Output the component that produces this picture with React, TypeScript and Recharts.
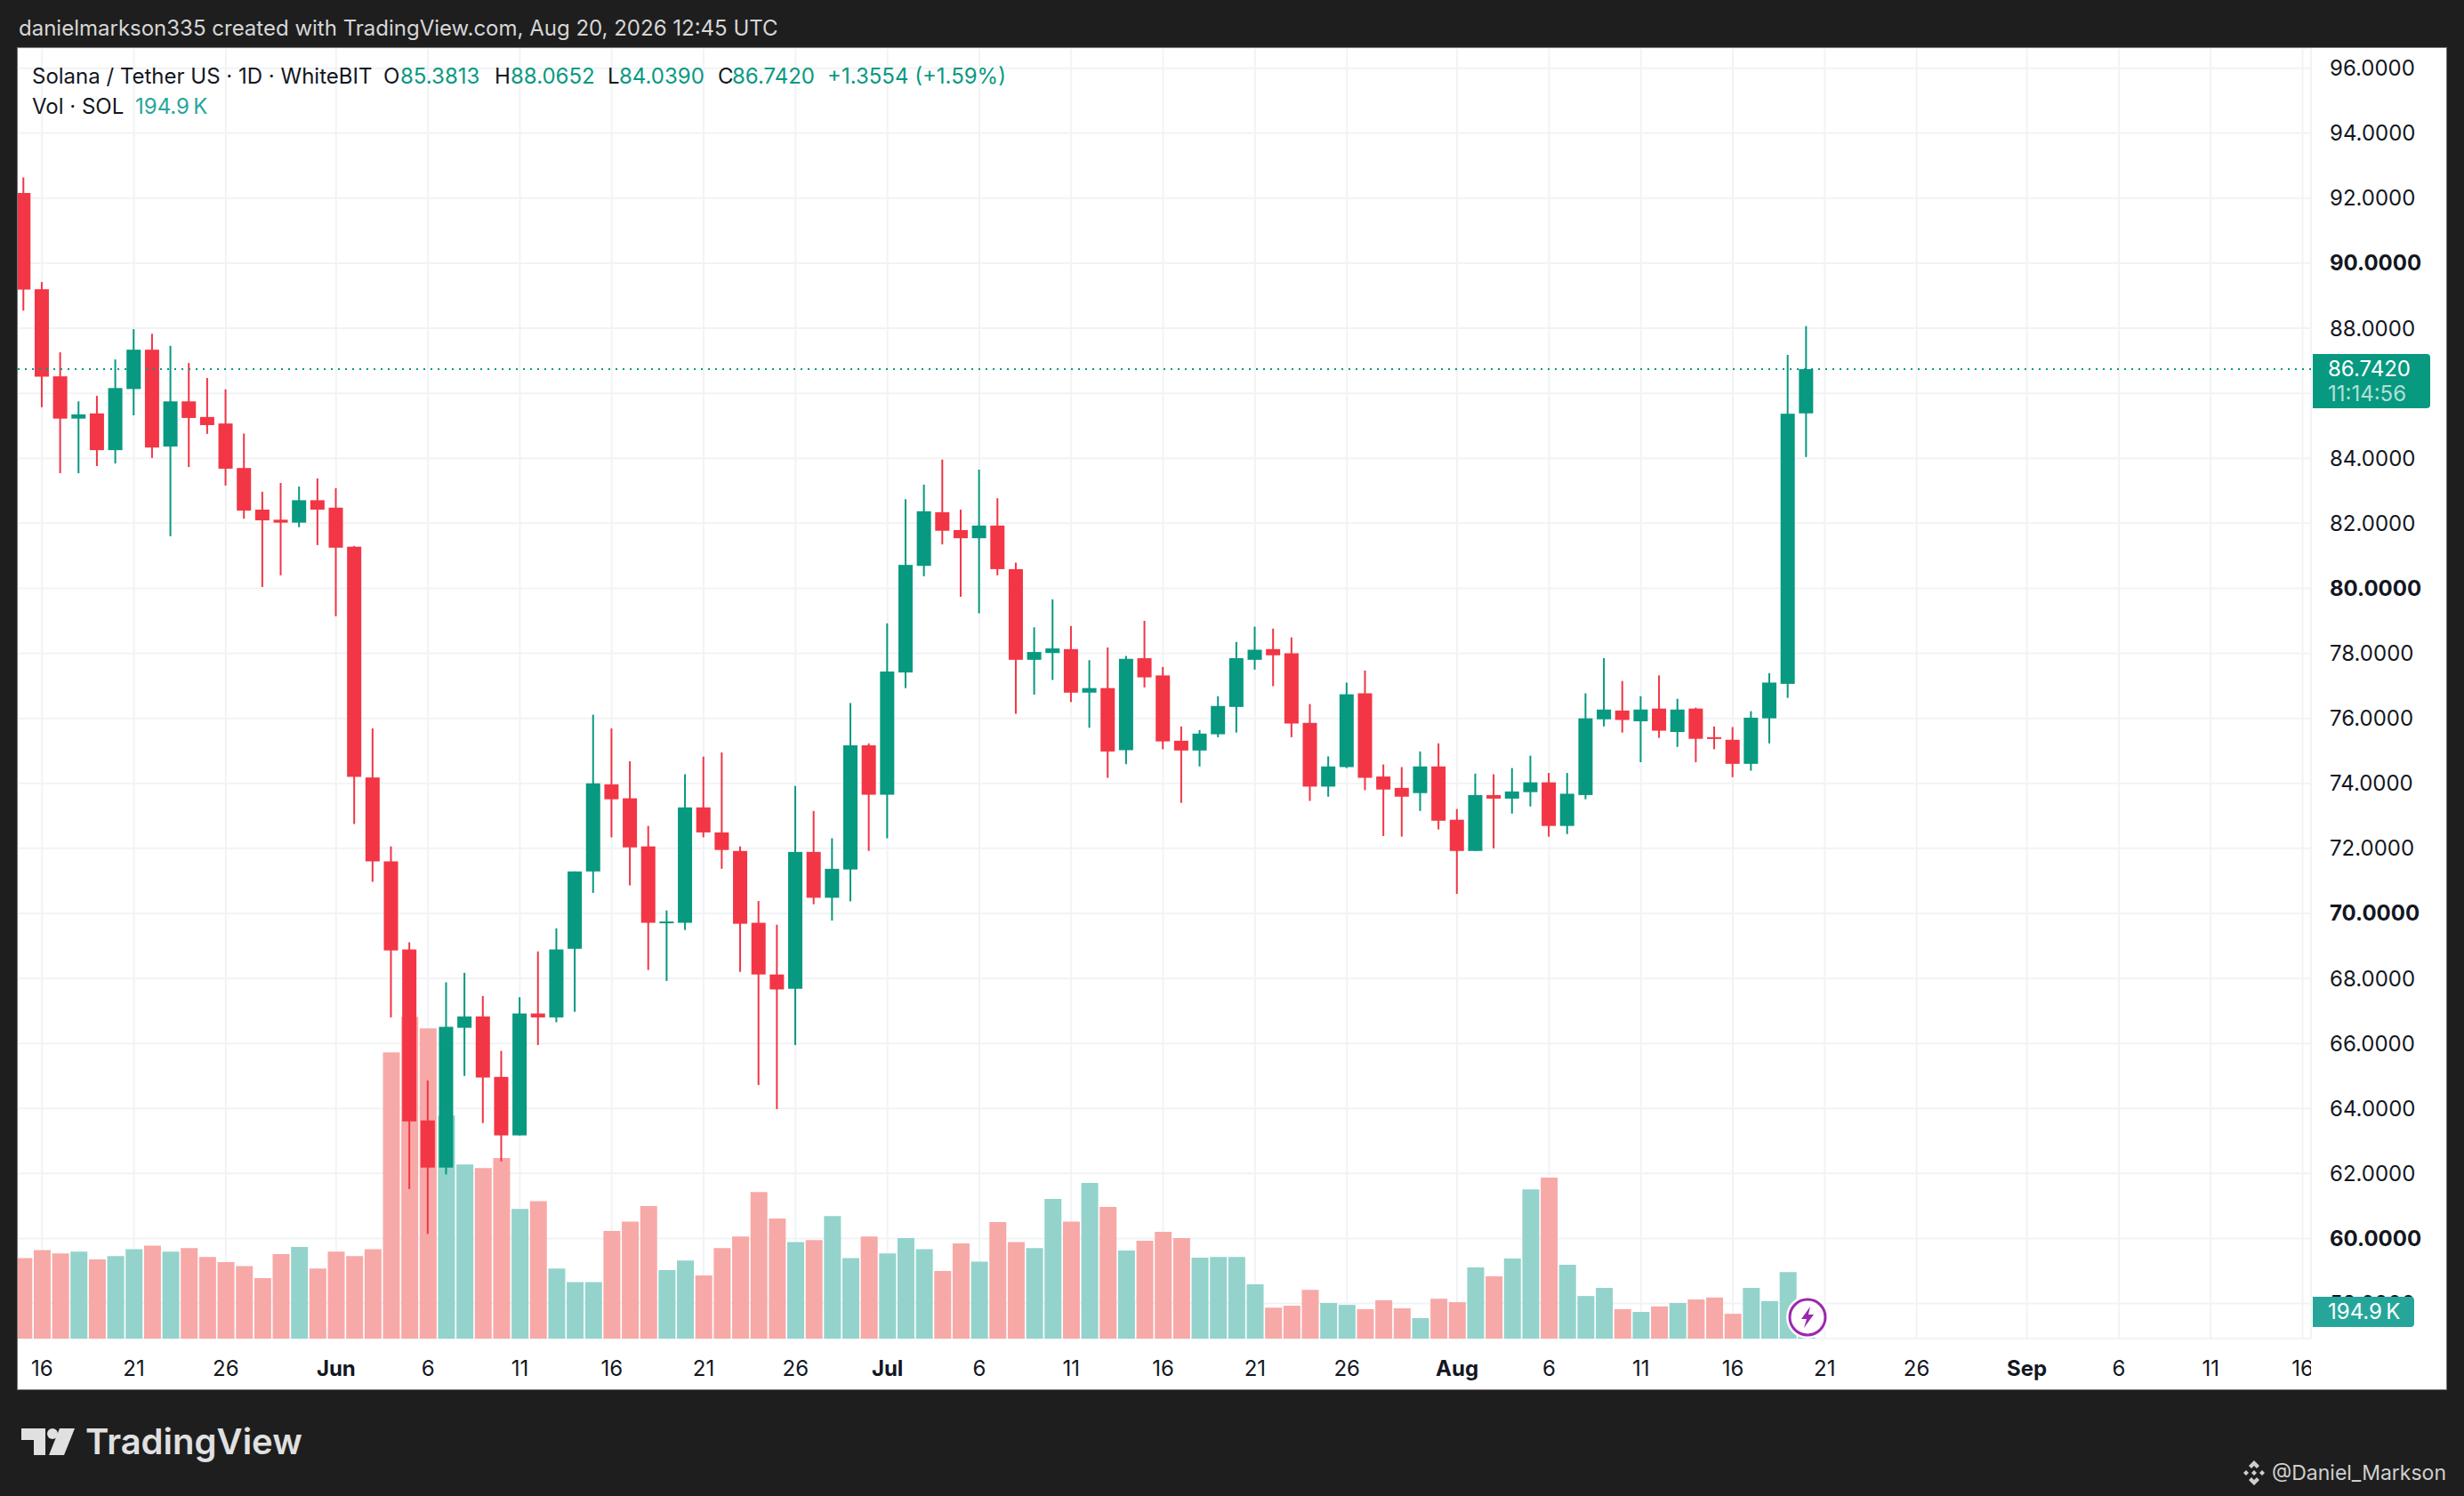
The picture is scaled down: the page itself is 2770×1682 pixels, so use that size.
import { Bar, CartesianGrid, Cell, ComposedChart, ReferenceLine, XAxis, YAxis } from 'recharts';

const UP = '#089981';
const DOWN = '#f23645';
const UP_VOL = '#93d3cc';
const DOWN_VOL = '#f7a9a7';
const FONT = 'Inter, sans-serif';

// daily candles, May 15 to Aug 20
const opens = [
  92.16, 89.2, 86.52, 85.22, 85.38, 84.25, 86.13, 87.34, 84.36, 85.75, 85.27, 85.07, 83.7, 82.42, 82.11, 82.02, 82.71,
  82.48, 81.28, 74.18, 71.6, 68.89, 63.63, 62.18, 66.48, 66.83, 64.97, 63.17, 66.92, 66.8, 68.91, 71.29, 73.97, 73.54, 72.06, 69.71, 69.71, 73.26, 72.49, 71.92, 69.71, 68.12, 67.68, 71.89, 70.48, 71.35, 75.17,
  73.65, 77.41, 80.69, 82.34, 81.79, 81.54, 81.93, 80.59, 77.8, 78.01, 78.13, 76.79, 76.93, 75.02, 77.85, 77.32, 75.31, 75.01, 75.51, 76.35, 77.8, 78.13, 78.0, 75.86, 73.9, 74.5, 76.77, 74.21, 73.86, 73.7, 74.52,
  72.88, 71.92, 73.64, 73.53, 73.73, 74.03, 72.69, 73.64, 75.97, 76.24, 75.91, 76.3, 75.58, 76.3, 75.42, 75.34, 74.6, 76.0, 77.06, 85.3813,
];
const highs = [
  92.64, 89.42, 87.26, 85.75, 85.92, 87.04, 87.97, 87.83, 87.46, 86.93, 86.47, 86.12, 84.76, 82.97, 83.24, 83.13, 83.38,
  83.08, 81.3, 75.69, 72.06, 69.11, 64.86, 67.88, 68.17, 67.46, 65.77, 67.42, 68.83, 69.54, 71.29, 76.11, 75.69, 74.68, 72.69, 70.09, 74.28, 74.82, 74.95, 72.06, 70.38, 69.65, 73.92, 73.15, 72.31, 76.47, 75.23,
  78.92, 82.74, 83.19, 83.96, 82.42, 83.65, 82.77, 80.79, 78.8, 79.66, 78.84, 77.79, 78.18, 77.92, 79.0, 77.58, 75.75, 75.64, 76.68, 78.35, 78.82, 78.76, 78.49, 76.44, 74.83, 77.1, 77.47, 74.58, 74.5, 74.98, 75.23,
  73.21, 74.3, 74.28, 74.47, 74.85, 74.32, 74.32, 76.77, 77.85, 77.15, 76.68, 77.32, 76.6, 76.33, 75.75, 75.73, 76.22, 77.39, 87.18, 88.0652,
];
const lows = [
  88.54, 85.57, 83.54, 83.54, 83.76, 83.84, 85.32, 84.01, 81.6, 83.73, 84.75, 83.16, 82.14, 80.04, 80.4, 81.88, 81.33,
  79.14, 72.75, 70.97, 66.8, 61.52, 60.14, 61.97, 65.0, 63.55, 62.37, 63.17, 65.95, 66.65, 66.97, 70.63, 72.34, 70.86, 68.26, 67.92, 69.49, 72.34, 71.37, 68.2, 64.72, 63.98, 65.95, 70.28, 69.78, 70.37, 71.92,
  72.31, 76.93, 80.37, 81.35, 79.74, 79.23, 80.4, 76.14, 76.73, 77.18, 76.5, 75.71, 74.17, 74.59, 76.95, 75.05, 73.4, 74.52, 75.42, 75.56, 77.5, 76.99, 75.42, 73.46, 73.59, 74.47, 73.79, 72.38, 72.36, 73.15, 72.58,
  70.6, 71.92, 72.0, 73.07, 73.29, 72.36, 72.44, 73.51, 75.75, 75.56, 74.65, 75.4, 75.12, 74.65, 75.05, 74.19, 74.39, 75.23, 76.63, 84.039,
];
const closes = [
  89.19, 86.51, 85.22, 85.35, 84.25, 86.16, 87.34, 84.33, 85.75, 85.24, 85.02, 83.68, 82.39, 82.09, 82.02, 82.71, 82.42,
  81.25, 74.2, 71.6, 68.86, 63.6, 62.18, 66.51, 66.83, 64.95, 63.17, 66.92, 66.8, 68.89, 71.29, 74.0, 73.51, 72.03, 69.71, 69.75, 73.26, 72.49, 71.95, 69.68, 68.12, 67.66, 71.89, 70.48, 71.37, 75.17, 73.65,
  77.44, 80.72, 82.37, 81.77, 81.54, 81.93, 80.59, 77.8, 78.04, 78.15, 76.79, 76.93, 74.98, 77.83, 77.26, 75.29, 75.01, 75.53, 76.38, 77.85, 78.11, 77.94, 75.84, 73.9, 74.52, 76.74, 74.17, 73.81, 73.59, 74.52, 72.85,
  71.92, 73.64, 73.53, 73.75, 74.03, 72.69, 73.68, 76.0, 76.27, 75.95, 76.27, 75.62, 76.27, 75.37, 75.37, 74.6, 76.02, 77.1, 85.37, 86.742,
];
// volume in thousands of SOL
const volumes = [
  589, 647, 622, 636, 578, 603, 654, 680, 636, 662, 596, 559, 530, 442, 618, 669, 512,
  636, 603, 654, 2091, 2351, 2267, 1630, 1272, 1247, 1320, 947, 1005, 512, 413, 413, 786, 855, 969, 501, 570, 461, 662, 746, 1071, 878, 706, 720, 896, 589, 746,
  622, 735, 654, 494, 695, 563, 852, 706, 662, 1020, 855, 1137, 962, 644, 715, 780, 735, 591, 597, 597, 396, 226, 240, 356, 260, 246, 215, 280, 221, 150, 291,
  266, 520, 455, 585, 1091, 1176, 540, 311, 370, 215, 195, 235, 260, 286, 300, 181, 370, 274, 486, 194.9,
];

// x value 0 is May 16
const tickDays = [0, 5, 10, 16, 21, 26, 31, 36, 41, 46, 51, 56, 61, 66, 71, 77, 82, 87, 92, 97, 102, 108, 113, 118, 123];
const timeLabels = ['16', '21', '26', 'Jun', '6', '11', '16', '21', '26', 'Jul', '6', '11', '16', '21', '26', 'Aug', '6', '11', '16', '21', '26', 'Sep', '6', '11', '16'];
const monthTicks = [16, 46, 77, 108];
const priceTicks = [96, 94, 92, 90, 88, 86, 84, 82, 80, 78, 76, 74, 72, 70, 68, 66, 64, 62, 60, 58];

const rows = opens.map((open, i) => ({
  day: i - 1,
  open,
  high: highs[i],
  low: lows[i],
  close: closes[i],
  range: [lows[i], highs[i]],
  volume: volumes[i],
}));

const CHART_W = 2730;
const CHART_H = 1508;
const PLOT_RIGHT = 2578;
const X_DOMAIN = [-1.32, 123.46];
const Y_DOMAIN = [56.92, 96.62];
const VOL_DOMAIN = [0, 9431];

function Candle({ x, y, width, height, payload }: any) {
  const { open, close, high, low } = payload;
  const perUnit = height / (high - low);
  const yOf = (v: number) => y + (high - v) * perUnit;
  const color = close >= open ? UP : DOWN;
  const top = yOf(Math.max(open, close));
  const bodyH = Math.max(Math.abs(open - close) * perUnit, 2);
  return (
    <g>
      <rect x={x + width / 2 - 1} y={y} width={2} height={height} fill={color} />
      <rect x={x} y={top} width={width} height={bodyH} fill={color} />
    </g>
  );
}

function TimeTick({ x, y, payload }: any) {
  const label = timeLabels[tickDays.indexOf(payload.value)];
  const isMonth = monthTicks.includes(payload.value);
  return (
    <text
      x={x}
      y={y + 31}
      textAnchor="middle"
      dominantBaseline="central"
      clipPath="url(#timeClip)"
      fontFamily={FONT}
      fontSize={24}
      fontWeight={isMonth ? 700 : 400}
      fill="#131722"
    >
      {label}
    </text>
  );
}

function PriceTick({ x, y, payload }: any) {
  return (
    <text
      x={x + 19}
      y={y}
      dominantBaseline="central"
      fontFamily={FONT}
      fontSize={24}
      fontWeight={payload.value % 10 === 0 ? 700 : 400}
      fill="#131722"
    >
      {payload.value.toFixed(4)}
    </text>
  );
}

function Abs({ x, y, color, size = 24, children, weight = 400 }: any) {
  return (
    <div
      style={{
        position: 'absolute',
        left: x,
        top: y,
        transform: 'translateY(-50%)',
        color,
        fontSize: size,
        fontWeight: weight,
        fontFamily: FONT,
        whiteSpace: 'nowrap',
        lineHeight: 1,
      }}
    >
      {children}
    </div>
  );
}

export default function App() {
  return (
    <div style={{ position: 'absolute', left: 0, top: 0, width: 2770, height: 1682, background: '#1e1e1e', overflow: 'hidden' }}>
      <Abs x={21} y={32} color="#d6d6d6">
        danielmarkson335 created with TradingView.com, Aug 20, 2026 12:45 UTC
      </Abs>

      <div style={{ position: 'absolute', left: 20, top: 54, width: CHART_W, height: CHART_H, background: '#fff', outline: '1px solid #777' }}>
        <ComposedChart
          width={CHART_W}
          height={CHART_H}
          data={rows}
          margin={{ top: 0, right: 0, bottom: 0, left: 0 }}
          barGap={0}
        >
          <defs>
            <clipPath id="timeClip">
              <rect x={0} y={0} width={PLOT_RIGHT} height={CHART_H} />
            </clipPath>
          </defs>
          <XAxis
            xAxisId="time"
            type="number"
            dataKey="day"
            domain={X_DOMAIN}
            allowDataOverflow
            ticks={tickDays}
            interval={0}
            height={57}
            axisLine={false}
            tickLine={false}
            tickSize={0}
            tick={<TimeTick />}
          />
          <XAxis xAxisId="volTime" type="number" dataKey="day" domain={X_DOMAIN} allowDataOverflow hide />
          <YAxis
            yAxisId="price"
            orientation="right"
            domain={Y_DOMAIN}
            allowDataOverflow
            ticks={priceTicks}
            interval={0}
            width={152}
            axisLine={false}
            tickLine={false}
            tickSize={0}
            tick={<PriceTick />}
          />
          <YAxis yAxisId="vol" domain={VOL_DOMAIN} allowDataOverflow hide />
          <CartesianGrid xAxisId="time" yAxisId="price" stroke="#f2f3f5" strokeWidth={2} />
          <Bar xAxisId="volTime" yAxisId="vol" dataKey="volume" barSize={19} isAnimationActive={false}>
            {rows.map((r) => (
              <Cell key={r.day} fill={r.close >= r.open ? UP_VOL : DOWN_VOL} />
            ))}
          </Bar>
          <ReferenceLine xAxisId="time" yAxisId="price" y={closes[closes.length - 1]} stroke={UP} strokeWidth={2} strokeDasharray="2 6" />
          <Bar xAxisId="time" yAxisId="price" dataKey="range" barSize={16} shape={<Candle />} isAnimationActive={false} />
        </ComposedChart>
      </div>

      <Abs x={36} y={86} color="#131722">Solana / Tether US · 1D · WhiteBIT</Abs>
      <Abs x={431} y={86} color="#131722">O</Abs>
      <Abs x={450} y={86} color={UP}>85.3813</Abs>
      <Abs x={556} y={86} color="#131722">H</Abs>
      <Abs x={574} y={86} color={UP}>88.0652</Abs>
      <Abs x={683} y={86} color="#131722">L</Abs>
      <Abs x={696} y={86} color={UP}>84.0390</Abs>
      <Abs x={807} y={86} color="#131722">C</Abs>
      <Abs x={823} y={86} color={UP}>86.7420</Abs>
      <Abs x={930} y={86} color={UP}>+1.3554 (+1.59%)</Abs>
      <Abs x={36} y={120} color="#131722">Vol · SOL</Abs>
      <Abs x={152} y={120} color="#26a69a">194.9{'\u202f'}K</Abs>

      <div style={{ position: 'absolute', left: 2600, top: 398, width: 132, height: 61, background: UP, borderRadius: '0 4px 4px 0' }} />
      <Abs x={2617} y={415} color="#fff">86.7420</Abs>
      <Abs x={2617} y={443} color="rgba(255,255,255,0.7)">11:14:56</Abs>

      <div style={{ position: 'absolute', left: 2600, top: 1458, width: 114, height: 34, background: '#26a69a', borderRadius: '0 4px 4px 0' }} />
      <Abs x={2617} y={1475} color="#fff">194.9{'\u202f'}K</Abs>

      <svg style={{ position: 'absolute', left: 2006, top: 1455 }} width={52} height={52} viewBox="0 0 52 52">
        <circle cx={26} cy={26} r={24} fill="#fff" />
        <circle cx={26} cy={26} r={20} fill="#fff" stroke="#9c27b0" strokeWidth={3} />
        <path d="M29 14 L19 28 L25 28 L22 38 L33 23 L27 23 Z" fill="#9c27b0" />
      </svg>

      <svg style={{ position: 'absolute', left: 24, top: 1604 }} width={62} height={34} viewBox="0 0 62 34" fill="#e0e0e0">
        <path d="M0 2 H27 V32 H14 V15 H0 Z" />
        <circle cx={35} cy={8} r={6} />
        <path d="M43 2 H60 L48 32 H31 Z" />
      </svg>
      <Abs x={96} y={1621} color="#e0e0e0" size={40} weight={600}>TradingView</Abs>

      <svg style={{ position: 'absolute', left: 2520, top: 1642 }} width={28} height={28} viewBox="0 0 28 28" fill="#cfcfcf">
        <path d="M14 0 L20 6 L17 9 L14 6 L11 9 L8 6 Z" />
        <path d="M14 28 L20 22 L17 19 L14 22 L11 19 L8 22 Z" />
        <path d="M5 11 L8 14 L5 17 L2 14 Z" />
        <path d="M23 11 L26 14 L23 17 L20 14 Z" />
        <path d="M14 11 L17 14 L14 17 L11 14 Z" />
      </svg>
      <Abs x={2554} y={1656} color="#cfcfcf" size={23}>@Daniel_Markson</Abs>
    </div>
  );
}
